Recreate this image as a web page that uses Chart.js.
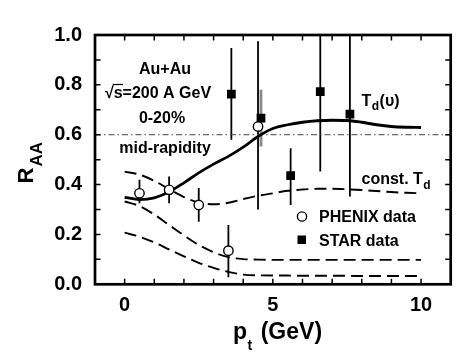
<!DOCTYPE html>
<html><head><meta charset="utf-8">
<style>html,body{margin:0;padding:0;background:#fff;}</style>
<script src="https://cdn.jsdelivr.net/npm/chart.js@4.4.0/dist/chart.umd.min.js"></script>
</head><body>
<canvas id="c" width="474" height="355"></canvas>
<script>
// ---- data ----
const curveX      = [0,0.5,1,1.5,2,2.5,3,3.5,4,4.5,5,5.5,6,6.5,7,7.5,8,8.5,9,9.5,10];
const tdUpsilon   = [0.349,0.340,0.347,0.371,0.407,0.447,0.482,0.513,0.550,0.593,0.625,0.640,0.650,0.656,0.658,0.657,0.650,0.640,0.633,0.630,0.629];
const constTdHigh = [0.452,0.440,0.415,0.382,0.350,0.328,0.321,0.327,0.342,0.355,0.365,0.375,0.380,0.383,0.383,0.381,0.378,0.374,0.370,0.367,0.365];
const constTdMid  = [0.332,0.314,0.280,0.238,0.196,0.158,0.129,0.109,0.101,0.099,0.098,0.098,0.098,0.098,0.098,0.098,0.098,0.098,0.098,0.098,0.098];
const constTdLow  = [0.207,0.191,0.168,0.140,0.112,0.086,0.066,0.050,0.039,0.036,0.035,0.035,0.034,0.034,0.034,0.034,0.033,0.033,0.033,0.033,0.033];

const phenixX  = [0.5,1.5,2.5,3.5,4.5];
const phenixY  = [0.365,0.379,0.318,0.135,0.633];
const phenixLo = [0.325,0.325,0.251,0.028,0.300];
const phenixHi = [0.419,0.432,0.386,0.238,0.975];

const starX  = [3.6,4.6,5.6,6.6,7.6];
const starY  = [0.763,0.667,0.436,0.773,0.683];
const starLo = [0.580,0.553,0.318,0.452,0.352];
const starHi = [0.948,0.780,0.546,1.000,1.000];

const refLineY = 0.6;
const xTickValues = [0,5,10];
const yTickValues = [0,0.2,0.4,0.6,0.8,1.0];
const yTickLabels = ['0.0','0.2','0.4','0.6','0.8','1.0'];
const xMinorTicks = [0,1,2,3,4,5,6,7,8,9,10];
const yMinorTicks = [0.1,0.2,0.3,0.4,0.5,0.6,0.7,0.8,0.9];

// ---- helpers ----
const pts = (xs, ys) => xs.map((x,i)=>({x:x, y:ys[i]}));
const FONT = '"Liberation Sans", Arial, Helvetica, sans-serif';

const errorBars = {
  id:'errorBars',
  beforeDatasetsDraw(chart){
    const {ctx, chartArea:a, scales:{x,y}} = chart;
    ctx.save();
    ctx.beginPath(); ctx.rect(a.left,a.top,a.right-a.left,a.bottom-a.top); ctx.clip();
    chart.data.datasets.forEach(ds=>{
      if(!ds.errLo) return;
      ds.data.forEach((p,i)=>{
        const px = x.getPixelForValue(p.x);
        ctx.strokeStyle = (ds.errColors && ds.errColors[i]) || '#000';
        ctx.lineWidth = (ds.errWidths && ds.errWidths[i]) || 1.8;
        ctx.beginPath();
        ctx.moveTo(px, y.getPixelForValue(ds.errLo[i]));
        ctx.lineTo(px, y.getPixelForValue(ds.errHi[i]));
        ctx.stroke();
      });
    });
    ctx.restore();
  }
};

const frameAndText = {
  id:'frameAndText',
  afterDraw(chart){
    const {ctx, chartArea:a, scales:{x,y}} = chart;
    ctx.save();
    // inward ticks
    ctx.strokeStyle='#000'; ctx.lineWidth=1.5;
    const tl=5.5;
    xMinorTicks.forEach(v=>{
      const px=x.getPixelForValue(v);
      ctx.beginPath();
      ctx.moveTo(px,a.bottom); ctx.lineTo(px,a.bottom-tl);
      ctx.moveTo(px,a.top); ctx.lineTo(px,a.top+tl);
      ctx.stroke();
    });
    yMinorTicks.forEach(v=>{
      const py=y.getPixelForValue(v);
      ctx.beginPath();
      ctx.moveTo(a.left,py); ctx.lineTo(a.left+tl,py);
      ctx.moveTo(a.right,py); ctx.lineTo(a.right-tl,py);
      ctx.stroke();
    });
    // frame
    ctx.lineWidth=2.7;
    ctx.strokeRect(a.left,a.top,a.right-a.left,a.bottom-a.top);

    ctx.fillStyle='#000';
    const bold = s => 'bold '+s+'px '+FONT;
    // annotation text block
    ctx.textAlign='center'; ctx.textBaseline='alphabetic';
    ctx.font=bold(16);
    ctx.fillText('Au+Au',165,73.5);
    const sTxt='\u221As=200 A GeV';
    ctx.fillText(sTxt,158,97.5);
    // overline on the radical
    const w=ctx.measureText(sTxt).width;
    const sx=158-w/2;
    const wr=ctx.measureText('\u221A').width;
    const ws=ctx.measureText('s').width;
    ctx.lineWidth=1.2;
    ctx.beginPath(); ctx.moveTo(sx+wr-1,84.5); ctx.lineTo(sx+wr+ws+0.5,84.5); ctx.stroke();
    ctx.fillText('0-20%',162,122.5);
    ctx.fillText('mid-rapidity',165,153);

    // curve labels with subscripts
    ctx.textAlign='left';
    const sub=(main, subT, tail, x0, yb)=>{
      ctx.font=bold(16); ctx.fillText(main,x0,yb);
      let xx=x0+ctx.measureText(main).width;
      ctx.font=bold(12); ctx.fillText(subT,xx+0.5,yb+4.5);
      xx+=ctx.measureText(subT).width+1;
      if(tail){ ctx.font=bold(16); ctx.fillText(tail,xx,yb); }
    };
    sub('T','d','(\u03C5)',361.5,105.5);
    sub('const. T','d','',361.5,184);

    // legend
    ctx.font=bold(16);
    ctx.fillText('PHENIX data',319,222);
    ctx.fillText('STAR data',319,245.5);
    ctx.lineWidth=1.4; ctx.fillStyle='#fff';
    ctx.beginPath(); ctx.arc(302,216.5,4.6,0,Math.PI*2); ctx.fill(); ctx.stroke();
    ctx.fillStyle='#000';
    ctx.fillRect(297.5,235.5,8.5,8.5);

    // axis titles
    ctx.font=bold(23);
    ctx.fillText('p',233,339);
    let xx=233+ctx.measureText('p').width;
    ctx.font=bold(14); ctx.fillText('t',xx+0.5,350);
    xx+=ctx.measureText('t').width+9;
    ctx.font=bold(23); ctx.fillText('(GeV)',xx,339);

    ctx.translate(33.3,183.5); ctx.rotate(-Math.PI/2);
    ctx.font=bold(22); ctx.fillText('R',0,0);
    const rw=ctx.measureText('R').width;
    ctx.font=bold(17); ctx.fillText('AA',rw+1,8.5);
    ctx.restore();
  }
};

const chart = new Chart(document.getElementById('c'), {
  type:'line',
  data:{
    datasets:[
      { label:'PHENIX data', data:pts(phenixX,phenixY), showLine:false,
        errLo:phenixLo, errHi:phenixHi,
        pointStyle:'circle', pointRadius:4.7, pointBackgroundColor:'#fff',
        pointBorderColor:'#000', pointBorderWidth:1.4 },
      { label:'STAR data', data:pts(starX,starY), showLine:false,
        errLo:starLo, errHi:starHi,
        errColors:['#000','#8a8a8a','#000','#000','#000'],
        errWidths:[1.8,2.8,1.8,1.8,1.8],
        pointStyle:'rect', pointRadius:6.2, pointBackgroundColor:'#000',
        pointBorderColor:'#000', pointBorderWidth:0 },
      { label:'Td(u)', data:pts(curveX,tdUpsilon), borderColor:'#000', borderWidth:2.8,
        pointRadius:0, cubicInterpolationMode:'monotone' },
      { label:'const Td high', data:pts(curveX,constTdHigh), borderColor:'#000', borderWidth:1.9,
        borderDash:[12,6], pointRadius:0, cubicInterpolationMode:'monotone' },
      { label:'const Td mid', data:pts(curveX,constTdMid), borderColor:'#000', borderWidth:1.9,
        borderDash:[12,6], pointRadius:0, cubicInterpolationMode:'monotone' },
      { label:'const Td low', data:pts(curveX,constTdLow), borderColor:'#000', borderWidth:1.9,
        borderDash:[12,6], pointRadius:0, cubicInterpolationMode:'monotone' },
      { label:'ref', data:[{x:-1,y:refLineY},{x:11,y:refLineY}], borderColor:'#444', borderWidth:1,
        borderDash:[6,3,1.5,3], pointRadius:0 }
    ]
  },
  options:{
    responsive:false, animation:false, devicePixelRatio:1,
    layout:{padding:{left:0,top:35,right:23.3,bottom:0}},
    plugins:{legend:{display:false}, tooltip:{enabled:false}},
    scales:{
      x:{ type:'linear', min:-1, max:11,
        grid:{display:false, drawTicks:false}, border:{display:false},
        afterFit(s){ s.height = 355-284.3; },
        afterBuildTicks(s){ s.ticks = xTickValues.map(v=>({value:v})); },
        ticks:{ padding:9, color:'#000', font:{family:FONT, size:20, weight:'bold'}, maxRotation:0,
          callback:v=>String(v) } },
      y:{ type:'linear', min:0, max:1,
        grid:{display:false, drawTicks:false}, border:{display:false},
        afterFit(s){ s.width = 95; },
        afterBuildTicks(s){ s.ticks = yTickValues.map(v=>({value:v})); },
        ticks:{ padding:13, color:'#000', font:{family:FONT, size:20, weight:'bold'},
          callback:(v)=>yTickLabels[yTickValues.findIndex(t=>Math.abs(t-v)<1e-6)] } }
    }
  },
  plugins:[errorBars, frameAndText]
});
</script>
</body></html>
